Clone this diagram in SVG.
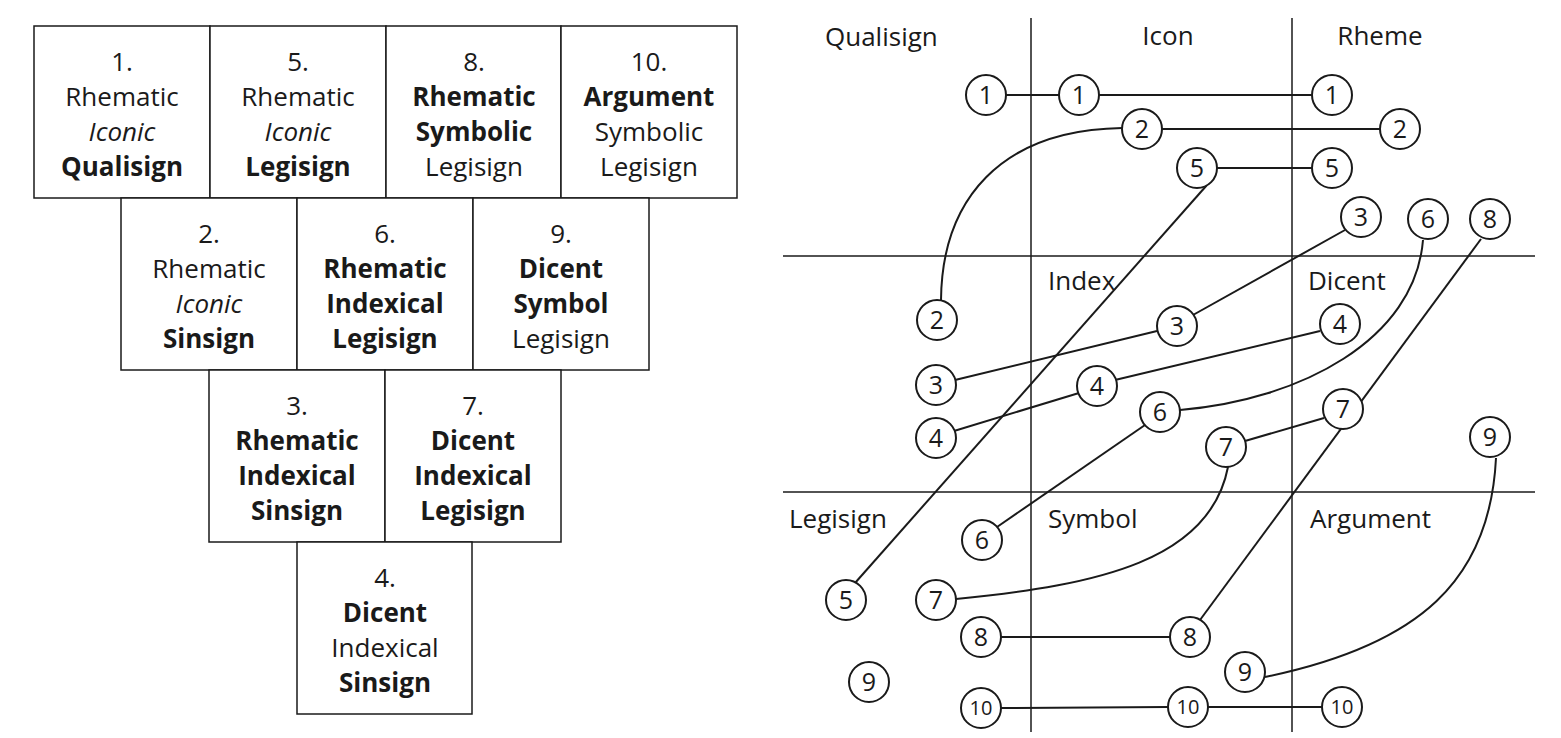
<svg xmlns="http://www.w3.org/2000/svg" width="1561" height="738" viewBox="0 0 1561 738">
<style>
text{font-family:"Open Sans","Liberation Sans",sans-serif;font-size:26px;fill:#1a1a1a}
.c text{text-anchor:middle}
.b{font-weight:bold}.i{font-style:italic}
rect{fill:#fff;stroke:#1a1a1a;stroke-width:1.5}
.ln{stroke:#1a1a1a;stroke-width:2;fill:none}
.g{stroke:#1a1a1a;stroke-width:1.5}
circle{fill:#fff;stroke:#1a1a1a;stroke-width:2}
.n text{text-anchor:middle;font-size:25px}
.n text.s{font-size:20px}
</style>
<rect x="0" y="0" width="1561" height="738" style="fill:#fff;stroke:none"/>
<g class="c">
<g id="b1"><rect x="34" y="26" width="176" height="172"/><text x="122" y="71">1.</text><text x="122" y="106">Rhematic</text><text x="122" y="141" class="i">Iconic</text><text x="122" y="176" class="b">Qualisign</text></g>
<g id="b5"><rect x="210" y="26" width="176" height="172"/><text x="298" y="71">5.</text><text x="298" y="106">Rhematic</text><text x="298" y="141" class="i">Iconic</text><text x="298" y="176" class="b">Legisign</text></g>
<g id="b8"><rect x="386" y="26" width="175" height="172"/><text x="474" y="71">8.</text><text x="474" y="106" class="b">Rhematic</text><text x="474" y="141" class="b">Symbolic</text><text x="474" y="176">Legisign</text></g>
<g id="b10"><rect x="561" y="26" width="176" height="172"/><text x="649" y="71">10.</text><text x="649" y="106" class="b">Argument</text><text x="649" y="141">Symbolic</text><text x="649" y="176">Legisign</text></g>
<g id="b2"><rect x="121" y="198" width="176" height="172"/><text x="209" y="243">2.</text><text x="209" y="278">Rhematic</text><text x="209" y="313" class="i">Iconic</text><text x="209" y="348" class="b">Sinsign</text></g>
<g id="b6"><rect x="297" y="198" width="176" height="172"/><text x="385" y="243">6.</text><text x="385" y="278" class="b">Rhematic</text><text x="385" y="313" class="b">Indexical</text><text x="385" y="348" class="b">Legisign</text></g>
<g id="b9"><rect x="473" y="198" width="176" height="172"/><text x="561" y="243">9.</text><text x="561" y="278" class="b">Dicent</text><text x="561" y="313" class="b">Symbol</text><text x="561" y="348">Legisign</text></g>
<g id="b3"><rect x="209" y="370" width="176" height="172"/><text x="297" y="415">3.</text><text x="297" y="450" class="b">Rhematic</text><text x="297" y="485" class="b">Indexical</text><text x="297" y="520" class="b">Sinsign</text></g>
<g id="b7"><rect x="385" y="370" width="176" height="172"/><text x="473" y="415">7.</text><text x="473" y="450" class="b">Dicent</text><text x="473" y="485" class="b">Indexical</text><text x="473" y="520" class="b">Legisign</text></g>
<g id="b4"><rect x="297" y="542" width="175" height="172"/><text x="385" y="587">4.</text><text x="385" y="622" class="b">Dicent</text><text x="385" y="657">Indexical</text><text x="385" y="692" class="b">Sinsign</text></g>
</g>
<g id="grid" class="g">
<line x1="1031" y1="18" x2="1031" y2="732"/><line x1="1292" y1="18" x2="1292" y2="732"/>
<line x1="783" y1="256" x2="1535" y2="256"/><line x1="783" y1="492" x2="1535" y2="492"/>
</g>
<g id="labels">
<text x="825" y="46">Qualisign</text><text x="1168" y="45" text-anchor="middle">Icon</text><text x="1380" y="45" text-anchor="middle">Rheme</text>
<text x="1048" y="290">Index</text><text x="1308" y="290">Dicent</text>
<text x="789" y="528">Legisign</text><text x="1048" y="528">Symbol</text><text x="1310" y="528">Argument</text>
</g>
<g id="connectors" class="ln">
<line x1="1006" y1="95" x2="1059" y2="95"/><line x1="1099" y1="95" x2="1312" y2="95"/>
<line x1="1162" y1="129" x2="1380" y2="129"/><path d="M1122,128 C1000,130 942,200 941,300"/>
<line x1="1207" y1="185" x2="855" y2="583"/><line x1="1217" y1="168" x2="1312" y2="168"/>
<line x1="1345" y1="230" x2="1193" y2="315"/><line x1="1157" y1="331" x2="955" y2="380"/>
<line x1="1320" y1="331" x2="1115" y2="380"/><line x1="1079" y1="393" x2="954" y2="431"/>
<path d="M1423,240 C1415,340 1300,400 1180,410"/><line x1="1145" y1="425" x2="997" y2="527"/>
<line x1="1481" y1="239" x2="1200" y2="620"/><line x1="1170" y1="637" x2="1001" y2="637"/>
<line x1="1324" y1="418" x2="1245" y2="441"/><path d="M1228,467 C1210,560 1100,585 956,599"/>
<path d="M1496,458 C1490,580 1420,645 1265,677"/>
<line x1="1001" y1="708" x2="1168" y2="707"/><line x1="1208" y1="707" x2="1322" y2="707"/>
</g>
<g id="nodes" class="n">
<g id="n1a"><circle cx="986" cy="95" r="20"/><text x="986" y="104">1</text></g>
<g id="n1b"><circle cx="1079" cy="95" r="20"/><text x="1079" y="104">1</text></g>
<g id="n1c"><circle cx="1332" cy="95" r="20"/><text x="1332" y="104">1</text></g>
<g id="n2a"><circle cx="1142" cy="129" r="20"/><text x="1142" y="138">2</text></g>
<g id="n2b"><circle cx="1400" cy="129" r="20"/><text x="1400" y="138">2</text></g>
<g id="n2c"><circle cx="937" cy="320" r="20"/><text x="937" y="329">2</text></g>
<g id="n5a"><circle cx="1197" cy="168" r="20"/><text x="1197" y="177">5</text></g>
<g id="n5b"><circle cx="1332" cy="168" r="20"/><text x="1332" y="177">5</text></g>
<g id="n5c"><circle cx="846" cy="600" r="20"/><text x="846" y="609">5</text></g>
<g id="n3a"><circle cx="1361" cy="217" r="20"/><text x="1361" y="226">3</text></g>
<g id="n3b"><circle cx="1177" cy="326" r="20"/><text x="1177" y="335">3</text></g>
<g id="n3c"><circle cx="936" cy="385" r="20"/><text x="936" y="394">3</text></g>
<g id="n6a"><circle cx="1428" cy="219" r="20"/><text x="1428" y="228">6</text></g>
<g id="n6b"><circle cx="1160" cy="412" r="20"/><text x="1160" y="421">6</text></g>
<g id="n6c"><circle cx="982" cy="540" r="20"/><text x="982" y="549">6</text></g>
<g id="n8a"><circle cx="1490" cy="219" r="20"/><text x="1490" y="228">8</text></g>
<g id="n8b"><circle cx="1190" cy="637" r="20"/><text x="1190" y="646">8</text></g>
<g id="n8c"><circle cx="981" cy="637" r="20"/><text x="981" y="646">8</text></g>
<g id="n4a"><circle cx="1340" cy="324" r="20"/><text x="1340" y="333">4</text></g>
<g id="n4b"><circle cx="1097" cy="386" r="20"/><text x="1097" y="395">4</text></g>
<g id="n4c"><circle cx="936" cy="438" r="20"/><text x="936" y="447">4</text></g>
<g id="n7a"><circle cx="1343" cy="409" r="20"/><text x="1343" y="418">7</text></g>
<g id="n7b"><circle cx="1226" cy="447" r="20"/><text x="1226" y="456">7</text></g>
<g id="n7c"><circle cx="936" cy="600" r="20"/><text x="936" y="609">7</text></g>
<g id="n9a"><circle cx="1490" cy="437" r="20"/><text x="1490" y="446">9</text></g>
<g id="n9b"><circle cx="1245" cy="672" r="20"/><text x="1245" y="681">9</text></g>
<g id="n9c"><circle cx="869" cy="682" r="20"/><text x="869" y="691">9</text></g>
<g id="n10a"><circle cx="981" cy="708" r="20"/><text class="s" x="981" y="715">10</text></g>
<g id="n10b"><circle cx="1188" cy="707" r="20"/><text class="s" x="1188" y="714">10</text></g>
<g id="n10c"><circle cx="1342" cy="707" r="20"/><text class="s" x="1342" y="714">10</text></g>
</g>
</svg>
